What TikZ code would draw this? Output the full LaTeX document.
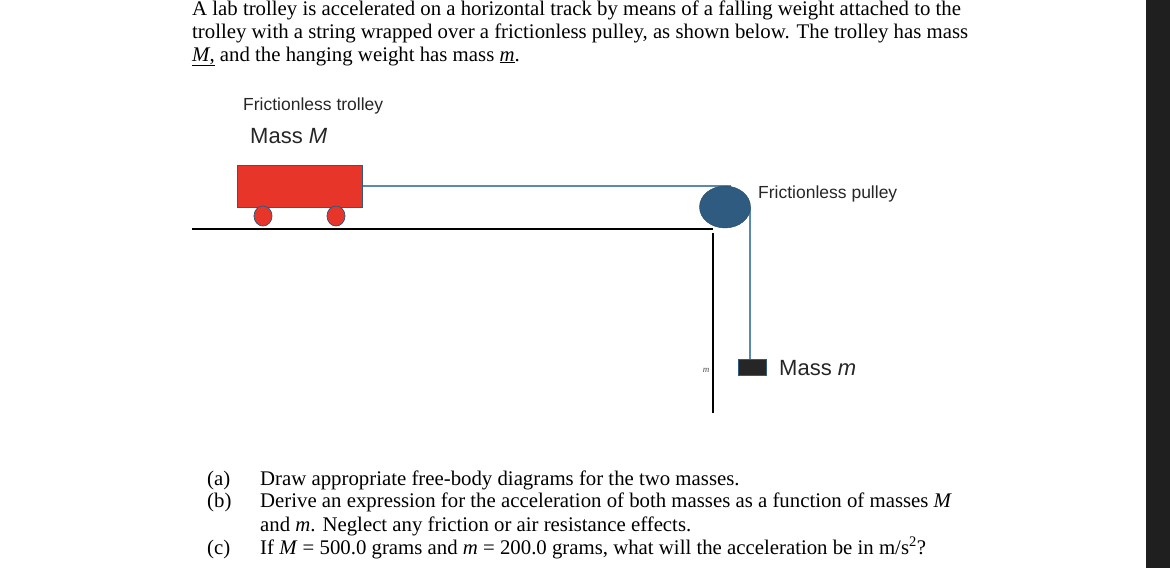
\documentclass[tikz,border=0pt]{standalone}
\usepackage{fontspec}
\usetikzlibrary{shapes.geometric}
\setmainfont{Liberation Serif}
\newfontfamily\sff{Liberation Sans}
\begin{document}
\begin{tikzpicture}[x=1pt,y=-1pt,
 body/.style={anchor=base west,inner sep=0,font=\fontsize{20.8}{22}\selectfont},
 lab/.style={anchor=west,inner sep=0,text=black!85,font=\sff\fontsize{17.5}{18}\selectfont},
 big/.style={lab,font=\sff\fontsize{22}{24}\selectfont}]
\definecolor{trol}{HTML}{E8352A}
\definecolor{pul}{HTML}{2E5B7F}
\definecolor{strc}{HTML}{5A8AB0}
\useasboundingbox (0,0) rectangle (1170,568);
\fill[black!88] (1146,0) rectangle (1170,568);
\node[body] (t1) at (192,15) {A lab trolley is accelerated on a horizontal track by means of a falling weight attached to the};
\node[body] (t2) at (192,38) {trolley with a string wrapped over a frictionless pulley, as shown below. The trolley has mass};
\node[body] (t3) at (192,61) {\underline{\textit{M},} and the hanging weight has mass \underline{\textit{m}}.};
\node[lab] (l1) at (243,106) {Frictionless trolley};
\node[big] (l2) at (250,136) {Mass \textit{M}};
\node[lab] (l3) at (758,194) {Frictionless pulley};
\node[big] (l4) at (779,368) {Mass \textit{m}};
% track and stand
\draw[line width=2.5pt] (192,229) -- (713,229);
\draw[line width=2pt] (713,233) -- (713,413);
\node[inner sep=0,font=\fontsize{9}{9}\selectfont\itshape,text=black!70] (sm) at (706,370) {m};
% string
\draw[strc,line width=1.3pt] (362,186) -- (731,186);
\draw[strc,line width=1.3pt] (750,207) -- (750,360);
% trolley
\node[draw=pul,line width=1pt,fill=trol,minimum width=125pt,minimum height=42pt,inner sep=0] (trolley) at (299.5,186) {};
\node[draw=pul,fill=trol,ellipse,minimum width=18pt,minimum height=20pt,inner sep=0,line width=0.8pt] (w1) at (263,216) {};
\node[draw=pul,fill=trol,ellipse,minimum width=18pt,minimum height=20pt,inner sep=0,line width=0.8pt] (w2) at (336,216) {};
% pulley
\node[draw=pul!80!black,fill=pul,ellipse,minimum width=51pt,minimum height=42pt,inner sep=0] (pulley) at (725,207) {};
% mass m
\node[draw=pul,fill=black!85,minimum width=28pt,minimum height=16pt,inner sep=0] (mm) at (752,367) {};
% questions
\node[body] (qa) at (207,485) {(a)};
\node[body] (qat) at (260,485) {Draw appropriate free-body diagrams for the two masses.};
\node[body] (qb) at (207,507) {(b)};
\node[body] (qbt) at (260,507) {Derive an expression for the acceleration of both masses as a function of masses \textit{M}};
\node[body] (qbt2) at (260,531) {and \textit{m}. Neglect any friction or air resistance effects.};
\node[body] (qc) at (207,554) {(c)};
\node[body] (qct) at (260,554) {If \textit{M} = 500.0 grams and \textit{m} = 200.0 grams, what will the acceleration be in m/s\textsuperscript{2}?};
\end{tikzpicture}
\end{document}
